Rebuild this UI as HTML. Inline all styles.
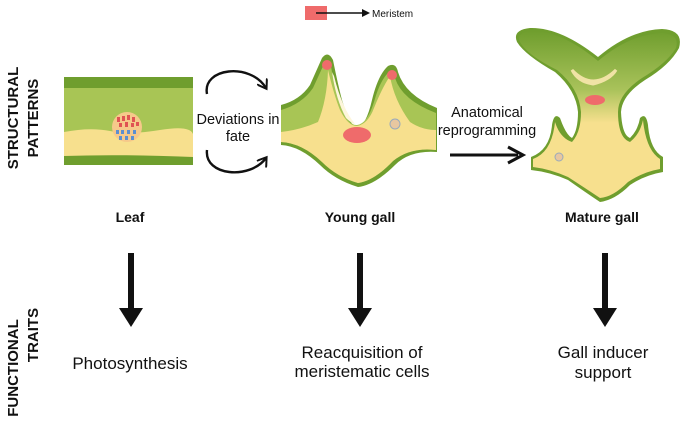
<!DOCTYPE html>
<html><head><meta charset="utf-8"><style>
html,body{margin:0;padding:0;background:#fff;}
svg{display:block;}
text{font-family:"Liberation Sans",sans-serif;fill:#111;}
.b{font-family:"Liberation Sans",sans-serif;font-weight:bold;}
</style></head><body>
<svg width="685" height="421" viewBox="0 0 685 421" xmlns="http://www.w3.org/2000/svg">
<defs>
<linearGradient id="mg" x1="0" y1="0" x2="0" y2="1">
<stop offset="0" stop-color="#6f9e2e"/><stop offset="0.35" stop-color="#a9c25a"/><stop offset="0.55" stop-color="#f7e08e"/><stop offset="1" stop-color="#f7e08e"/>
</linearGradient>
<marker id="ah" markerWidth="12" markerHeight="12" refX="8" refY="6" orient="auto" markerUnits="userSpaceOnUse"><path d="M0,0 L9,6 L0,12" fill="none" stroke="#111" stroke-width="2"/></marker>
</defs>

<text class="b" transform="translate(18,118) rotate(-90)" text-anchor="middle" font-size="15">STRUCTURAL</text>
<text class="b" transform="translate(38,118) rotate(-90)" text-anchor="middle" font-size="15">PATTERNS</text>
<text class="b" transform="translate(18,368) rotate(-90)" text-anchor="middle" font-size="15">FUNCTIONAL</text>
<text class="b" transform="translate(38,335) rotate(-90)" text-anchor="middle" font-size="15">TRAITS</text>

<rect x="305" y="6" width="22" height="14" fill="#ef6b6b"/>
<line x1="316" y1="13" x2="366" y2="13" stroke="#111" stroke-width="1.6"/>
<path d="M362,9 L370,13 L362,17 Z" fill="#111"/>
<text x="372" y="17" font-size="10">Meristem</text>

<rect x="64" y="77" width="129" height="88" fill="#a8c555"/>
<rect x="64" y="77" width="129" height="11" fill="#6f9e2e"/>
<path d="M64,132 Q90,127 110,131 T160,130 T193,134 L193,157 L64,157 Z" fill="#f7e08e"/>
<path d="M64,156 Q120,154 193,157 L193,165 L64,165 Z" fill="#6f9e2e"/>
<circle cx="127" cy="127" r="15" fill="#f6c98a"/>
<g fill="#e05353"><rect x="117" y="117" width="3" height="5"/><rect x="122" y="116" width="3" height="5"/><rect x="127" y="115" width="3" height="5"/><rect x="132" y="117" width="3" height="5"/><rect x="119" y="123" width="3" height="4"/><rect x="125" y="122" width="3" height="5"/><rect x="131" y="123" width="3" height="4"/><rect x="136" y="122" width="3" height="4"/></g>
<g fill="#5b8fd1"><rect x="116" y="130" width="3" height="4"/><rect x="121" y="130" width="3" height="4"/><rect x="127" y="130" width="3" height="4"/><rect x="133" y="130" width="3" height="4"/><rect x="119" y="136" width="3" height="4"/><rect x="125" y="136" width="3" height="4"/><rect x="131" y="136" width="3" height="4"/></g>

<path d="M207,94 C202,68 250,62 266,88" fill="none" stroke="#111" stroke-width="2.4" marker-end="url(#ah)"/>
<path d="M207,150 C204,176 250,180 266,158" fill="none" stroke="#111" stroke-width="2.4" marker-end="url(#ah)"/>
<text x="238" y="124" text-anchor="middle" font-size="14.5">Deviations in</text>
<text x="238" y="141" text-anchor="middle" font-size="14.5">fate</text>

<path d="M281,105 Q300,100 310,85 L322,58 Q328,50 333,60 Q338,85 342,100 Q350,126 357,128 Q366,126 372,100 Q378,75 388,66 Q396,62 398,72 Q405,95 437,108 L437,152 Q410,150 395,165 Q375,185 358,187 Q335,180 320,165 Q300,146 281,145 Z" fill="#6f9e2e"/>
<path d="M281,110 Q302,104 313,88 L324,64 Q328,60 331,66 Q334,88 340,104 Q348,126 357,125 Q367,124 374,102 Q380,80 389,72 Q393,70 395,78 Q402,100 436,113 L436,150 Q410,147 393,161 Q374,181 358,183 Q337,177 322,162 Q302,143 281,142 Z" fill="#a8c555"/>
<path d="M281,132 Q300,130 318,122 Q327,100 328,70 Q334,95 340,110 Q348,126 357,126 Q368,124 374,108 Q382,88 390,76 Q394,100 410,122 Q422,130 436,130 L436,150 Q410,147 393,161 Q374,181 358,183 Q337,177 322,162 Q302,143 281,142 Z" fill="#f7e08e"/>
<path d="M332,72 Q336,100 346,118 Q352,124 355,124 Q342,108 334,76 Z" fill="#fdf6dc"/>
<ellipse cx="357" cy="135" rx="14" ry="8" fill="#ef6b6b"/>
<circle cx="327" cy="65" r="5" fill="#ef6b6b"/>
<circle cx="392" cy="75" r="5" fill="#ef6b6b"/>
<circle cx="395" cy="124" r="5" fill="#e8c7a0" stroke="#9ab" stroke-width="1"/>

<text x="487" y="117" text-anchor="middle" font-size="14.5">Anatomical</text>
<text x="487" y="135" text-anchor="middle" font-size="14.5">reprogramming</text>
<line x1="450" y1="155" x2="518" y2="155" stroke="#111" stroke-width="3"/>
<path d="M508,147 L523,155 L508,163" fill="none" stroke="#111" stroke-width="3"/>

<path d="M517,42 Q512,30 530,28 Q560,27 598,57 Q630,30 662,29 Q684,30 679,48 Q670,65 645,80 Q622,95 621,112 Q622,135 630,138 Q638,130 640,118 Q646,112 648,125 Q650,150 663,157 L663,172 Q645,175 630,185 Q615,200 600,202 Q585,192 568,180 Q550,172 531,170 L531,157 Q550,150 552,125 Q554,112 560,118 Q566,135 572,138 Q578,130 578,112 Q576,90 555,72 Q525,55 517,42 Z" fill="#6f9e2e"/>
<path d="M520,42 Q516,32 532,31 Q562,31 598,61 Q630,34 662,33 Q680,34 676,48 Q667,63 642,78 Q618,94 618,112 Q618,138 630,142 Q640,134 643,120 Q646,150 660,159 L660,169 Q643,172 628,182 Q613,197 600,198 Q585,188 568,177 Q550,169 533,167 L533,159 Q552,152 555,122 Q560,138 572,142 Q581,132 581,112 Q579,88 557,70 Q527,55 520,42 Z" fill="url(#mg)"/>
<path d="M572,70 Q593,92 616,70 Q610,80 593,84 Q578,82 572,70 Z" fill="#fdf6dc" stroke="#f0e3a5" stroke-width="3"/>
<ellipse cx="595" cy="100" rx="10" ry="5" fill="#ef6b6b"/>
<circle cx="559" cy="157" r="4" fill="#e8c7a0" stroke="#9ab" stroke-width="1"/>

<text class="b" x="130" y="222" text-anchor="middle" font-size="14">Leaf</text>
<text class="b" x="360" y="222" text-anchor="middle" font-size="14">Young gall</text>
<text class="b" x="602" y="222" text-anchor="middle" font-size="14">Mature gall</text>

<g fill="#111">
<rect x="128" y="253" width="6" height="58"/><path d="M119,308 L143,308 L131,327 Z"/>
<rect x="357" y="253" width="6" height="58"/><path d="M348,308 L372,308 L360,327 Z"/>
<rect x="602" y="253" width="6" height="58"/><path d="M593,308 L617,308 L605,327 Z"/>
</g>

<text x="130" y="369" text-anchor="middle" font-size="17">Photosynthesis</text>
<text x="362" y="358" text-anchor="middle" font-size="17">Reacquisition of</text>
<text x="362" y="377" text-anchor="middle" font-size="17">meristematic cells</text>
<text x="603" y="358" text-anchor="middle" font-size="17">Gall inducer</text>
<text x="603" y="378" text-anchor="middle" font-size="17">support</text>
</svg>
</body></html>
